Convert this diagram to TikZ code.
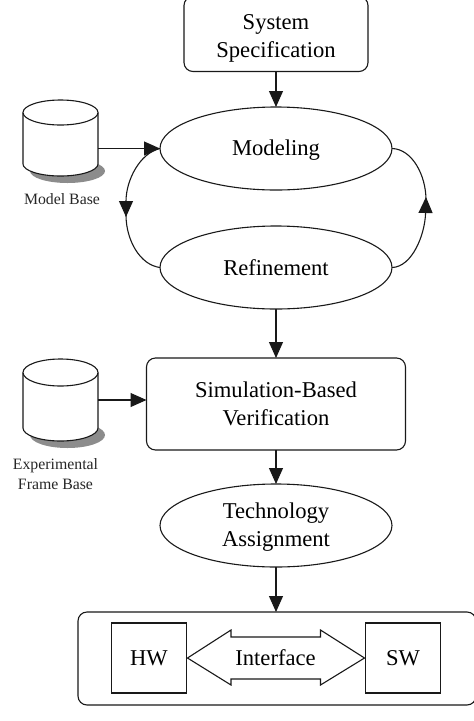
\documentclass[tikz,border=0pt]{standalone}
\usepackage{fontspec}
\setmainfont{Liberation Serif}
\usetikzlibrary{shapes.geometric,shapes.arrows,arrows.meta}
\tikzset{
  every node/.style={inner sep=0pt,outer sep=0pt},
  line/.style={draw=black!90,line width=1.1pt},
  big/.style={font=\fontsize{22.6}{28}\selectfont,align=center},
  small/.style={font=\fontsize{15.8}{20}\selectfont,align=center,text=black!85},
  flow/.style={line,-{Triangle[length=16pt,width=14pt]}},
  rbox/.style={line,rounded corners=9pt,rectangle,big},
  oval/.style={line,ellipse,minimum width=232pt,minimum height=83pt,big},
  sq/.style={line,rectangle,big,minimum width=75.5pt,minimum height=70pt},
  dbshadow/.style={fill=black!45,draw=none},
  db/.style={line,fill=white}
}
\begin{document}
\begin{tikzpicture}[x=1pt,y=-1pt]
\useasboundingbox (0,0) rectangle (474,721);
\clip (0,0) rectangle (474,721);
% nodes
\node[rbox,minimum width=184pt,minimum height=75pt] (spec) at (276,34) {};
\node[big] (spect) at (276,38) {System\\Specification};
\node[oval,text depth=2pt] (model) at (276,148.5) {Modeling};
\node[oval] (refine) at (276,267.5) {Refinement};
\node[rbox,minimum width=259pt,minimum height=92pt] (sim) at (276,404) {Simulation-Based\\Verification};
\node[oval] (tech) at (276,525.5) {};
\node[big] (techt) at (276,527.5) {Technology\\Assignment};
\node[rbox,minimum width=398pt,minimum height=93pt] (plat) at (277,658.5) {};
\node[sq] (hw) at (149,658) {HW};
\node[sq] (sw) at (403,658) {SW};
% double arrow
\draw[line,line join=miter] (187.5,658) coordinate (il) -- (231,630) -- (231,637) -- (320.5,637) -- (320.5,630) -- (364.5,658) coordinate (ir) -- (320.5,685) -- (320.5,679) -- (231,679) -- (231,685) -- cycle;
\node[big] (iface) at (275.5,658) {Interface};
% cylinders
\fill[dbshadow] (67.5,171) ellipse[x radius=37.5,y radius=12];
\draw[db] (23,112.5) -- (23,164) arc[start angle=180,end angle=0,x radius=37.5,y radius=12] -- (98,112.5);
\draw[db] (60.5,112.5) ellipse[x radius=37.5,y radius=12.5];
\coordinate (mbr) at (98,148.5);
\fill[dbshadow] (67.5,435) ellipse[x radius=37.5,y radius=13];
\draw[db] (23,372.5) -- (23,428) arc[start angle=180,end angle=0,x radius=37.5,y radius=13] -- (98,372.5);
\draw[db] (60.5,372.5) ellipse[x radius=37.5,y radius=13.5];
\coordinate (efr) at (98,400);
% labels
\node[small] (mbl) at (62,199) {Model Base};
\node[small] (efl) at (55.5,474) {Experimental\\Frame Base};
% connectors
\draw[flow] (spec.south) -- (model.north);
\draw[flow] (mbr) -- (model.west);
\draw[flow] (refine.south) -- (sim.north);
\draw[flow] (efr) -- (efr -| sim.west);
\draw[flow] (sim.south) -- (tech.north);
\draw[flow] (tech.south) -- (plat.north -| tech.south);
\draw[flow] (model.west) .. controls (140,153) and (126,180) .. (126,217);
\draw[line] (refine.west) .. controls (140,265) and (126,240) .. (126,215);
\draw[line] (model.east) .. controls (412,149) and (426,175) .. (426,200);
\draw[flow] (refine.east) .. controls (412,267) and (425,235) .. (426,197);
\end{tikzpicture}
\end{document}
